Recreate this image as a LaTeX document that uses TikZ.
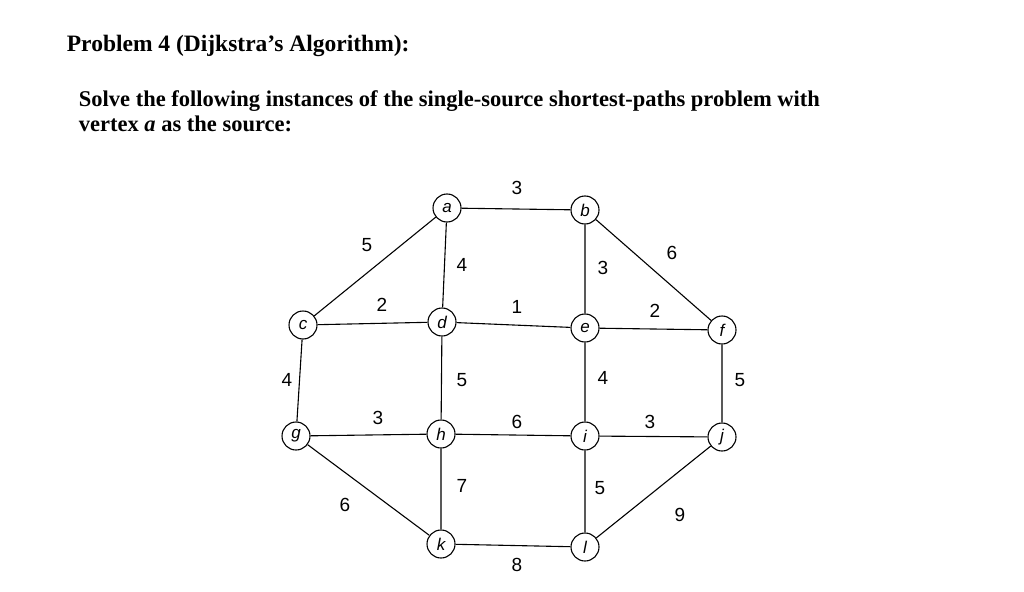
\documentclass[tikz,border=0pt]{standalone}
\usepackage{fontspec}
\setmainfont{Liberation Serif}
\newfontfamily\lab{Liberation Sans}
\begin{document}
\begin{tikzpicture}[x=1pt,y=-1pt,
  vtx/.style={draw,circle,minimum size=28pt,inner sep=0pt,line width=1.1pt,font=\lab\itshape\fontsize{17}{17}\selectfont},
  wt/.style={font=\lab\fontsize{19}{19}\selectfont},
  every path/.style={line width=1.1pt}]
\useasboundingbox (0,0) rectangle (1024,591);
\node[anchor=west,font=\bfseries\fontsize{23.5}{23.5}\selectfont] (title) at (63,46) {Problem 4 (Dijkstra’s Algorithm):};
\node[anchor=west,font=\bfseries\fontsize{22.5}{22.5}\selectfont] (l1) at (75,101) {Solve the following instances of the single-source shortest-paths problem with};
\node[anchor=west,font=\bfseries\fontsize{22.5}{22.5}\selectfont] (l2) at (75,124) {vertex \textit{a} as the source:};
\node[vtx] (a) at (447,208) {a};
\node[vtx] (b) at (585,210) {b};
\node[vtx] (c) at (303,325) {c};
\node[vtx] (d) at (442,322) {d};
\node[vtx] (e) at (585,328) {e};
\node[vtx] (f) at (722,330) {f};
\node[vtx] (g) at (296,436) {g};
\node[vtx] (h) at (441,434) {h};
\node[vtx] (i) at (585,436) {i};
\node[vtx] (j) at (722,437) {j};
\node[vtx] (k) at (441,544) {k};
\node[vtx] (l) at (585,547) {l};
\draw (a)--(b) (a)--(c) (a)--(d) (b)--(e) (b)--(f) (c)--(d) (d)--(e) (e)--(f)
 (c)--(g) (d)--(h) (e)--(i) (f)--(j) (g)--(h) (h)--(i) (i)--(j)
 (g)--(k) (h)--(k) (i)--(l) (l)--(j) (k)--(l);
\node[wt] (w1) at (517,188) {3};
\node[wt] (w2) at (367,245) {5};
\node[wt] (w3) at (462,265) {4};
\node[wt] (w4) at (603,268) {3};
\node[wt] (w5) at (672,253) {6};
\node[wt] (w6) at (382,305) {2};
\node[wt] (w7) at (517,307) {1};
\node[wt] (w8) at (655,311) {2};
\node[wt] (w9) at (287,380) {4};
\node[wt] (w10) at (462,380) {5};
\node[wt] (w11) at (603,378) {4};
\node[wt] (w12) at (740,380) {5};
\node[wt] (w13) at (378,418) {3};
\node[wt] (w14) at (517,422) {6};
\node[wt] (w15) at (650,422) {3};
\node[wt] (w16) at (345,505) {6};
\node[wt] (w17) at (462,486) {7};
\node[wt] (w18) at (600,488) {5};
\node[wt] (w19) at (680,515) {9};
\node[wt] (w20) at (517,565) {8};
\end{tikzpicture}
\end{document}
